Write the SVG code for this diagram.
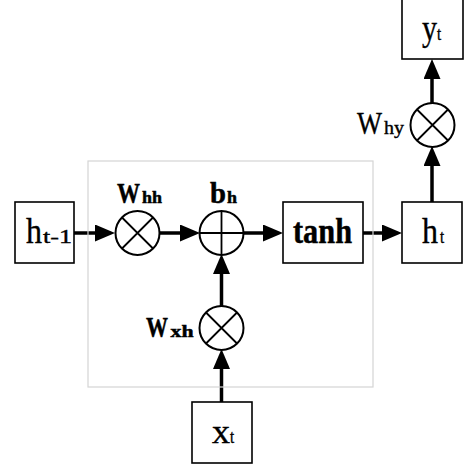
<svg xmlns="http://www.w3.org/2000/svg" width="474" height="474" viewBox="0 0 474 474">
<style>
.box{fill:#fff;stroke:#000;stroke-width:1.6}
.op{fill:#fff;stroke:#000;stroke-width:2}
.opl{stroke:#000;stroke-width:1.8;fill:none}
.con{stroke:#000;stroke-width:3.5;fill:none}
.t{font-family:"Liberation Serif","Times New Roman",serif;fill:#000;stroke:#000;stroke-width:0.3}
.b{font-weight:bold;stroke-width:0.4}
</style>
<defs>
<marker id="ah" markerUnits="userSpaceOnUse" markerWidth="20" markerHeight="17" refX="2" refY="8.5" orient="auto" viewBox="0 0 20 17">
<path d="M0,0 L20,8.5 L0,17 z" fill="#000"/>
</marker>
</defs>
<rect width="474" height="474" fill="#fff"/>
<g id="connectors">
<line class="con" x1="74" y1="233" x2="97" y2="233" marker-end="url(#ah)"/>
<line class="con" x1="160" y1="233" x2="182" y2="233" marker-end="url(#ah)"/>
<line class="con" x1="243" y1="233" x2="265" y2="233" marker-end="url(#ah)"/>
<line class="con" x1="363" y1="233" x2="384" y2="233" marker-end="url(#ah)"/>
<line class="con" x1="221.5" y1="306" x2="221.5" y2="272" marker-end="url(#ah)"/>
<line class="con" x1="221.5" y1="402" x2="221.5" y2="367" marker-end="url(#ah)"/>
<line class="con" x1="432" y1="202" x2="432" y2="164" marker-end="url(#ah)"/>
<line class="con" x1="432" y1="103" x2="432" y2="77" marker-end="url(#ah)"/>
</g>
<rect id="cell" x="88" y="161" width="285" height="226" fill="none" stroke="#d4d4d4" stroke-width="1.2"/>
<g id="h_prev">
<rect class="box" x="15" y="202" width="59" height="61"/>
<text class="t" font-size="30" textLength="16" lengthAdjust="spacingAndGlyphs" transform="translate(26,243) scale(1,1.22)">h</text>
<text class="t" font-size="15" textLength="29" lengthAdjust="spacingAndGlyphs" transform="translate(43,243) scale(1,1.2)">t-1</text>
</g>
<g id="W_hh">
<circle class="op" cx="137.5" cy="233" r="22"/>
<path class="opl" d="M122,217.5 L153,248.5 M153,217.5 L122,248.5"/>
<text class="t b" font-size="25" textLength="23" lengthAdjust="spacingAndGlyphs" transform="translate(117,203) scale(1,1.2)">W</text>
<text class="t b" font-size="14" textLength="20" lengthAdjust="spacingAndGlyphs" transform="translate(142,203) scale(1,1.2)">hh</text>
</g>
<g id="b_h">
<circle class="op" cx="221.5" cy="233" r="22"/>
<path class="opl" d="M199.5,233 H243.5 M221.5,211 V255"/>
<text class="t b" font-size="25" textLength="16" lengthAdjust="spacingAndGlyphs" transform="translate(210,203) scale(1,1.2)">b</text>
<text class="t b" font-size="14" textLength="10" lengthAdjust="spacingAndGlyphs" transform="translate(227,203) scale(1,1.2)">h</text>
</g>
<g id="W_xh">
<circle class="op" cx="221.5" cy="328" r="22"/>
<path class="opl" d="M206,312.5 L237,343.5 M237,312.5 L206,343.5"/>
<text class="t b" font-size="25" textLength="22" lengthAdjust="spacingAndGlyphs" transform="translate(146,337) scale(1,1.2)">W</text>
<text class="t b" font-size="14" textLength="23" lengthAdjust="spacingAndGlyphs" transform="translate(170.5,337) scale(1,1.2)">xh</text>
</g>
<g id="tanh">
<rect class="box" x="283" y="202" width="80" height="61"/>
<text class="t b" font-size="30" textLength="59" lengthAdjust="spacingAndGlyphs" transform="translate(293,243) scale(1,1.22)">tanh</text>
</g>
<g id="h_t">
<rect class="box" x="402" y="202" width="60" height="61"/>
<text class="t" font-size="30" textLength="16" lengthAdjust="spacingAndGlyphs" transform="translate(422,243) scale(1,1.22)">h</text>
<text class="t" font-size="15" transform="translate(440,243) scale(1,1.2)">t</text>
</g>
<g id="W_hy">
<circle class="op" cx="432.5" cy="125" r="22"/>
<path class="opl" d="M417,109.5 L448,140.5 M448,109.5 L417,140.5"/>
<text class="t" font-size="26" textLength="25" lengthAdjust="spacingAndGlyphs" transform="translate(357,134) scale(1,1.2)">W</text>
<text class="t" font-size="15" textLength="20" lengthAdjust="spacingAndGlyphs" transform="translate(384,134) scale(1,1.2)">hy</text>
</g>
<g id="y_t">
<rect class="box" x="402" y="-1" width="61" height="60"/>
<text class="t" font-size="30" textLength="15" lengthAdjust="spacingAndGlyphs" transform="translate(422,40) scale(1,1.22)">y</text>
<text class="t" font-size="15" transform="translate(437,40) scale(1,1.2)">t</text>
</g>
<g id="x_t">
<rect class="box" x="192" y="402" width="60" height="61"/>
<text class="t" font-size="28" textLength="18" lengthAdjust="spacingAndGlyphs" transform="translate(212,443) scale(1,1.2)">x</text>
<text class="t" font-size="15" transform="translate(230,443) scale(1,1.2)">t</text>
</g>
</svg>
